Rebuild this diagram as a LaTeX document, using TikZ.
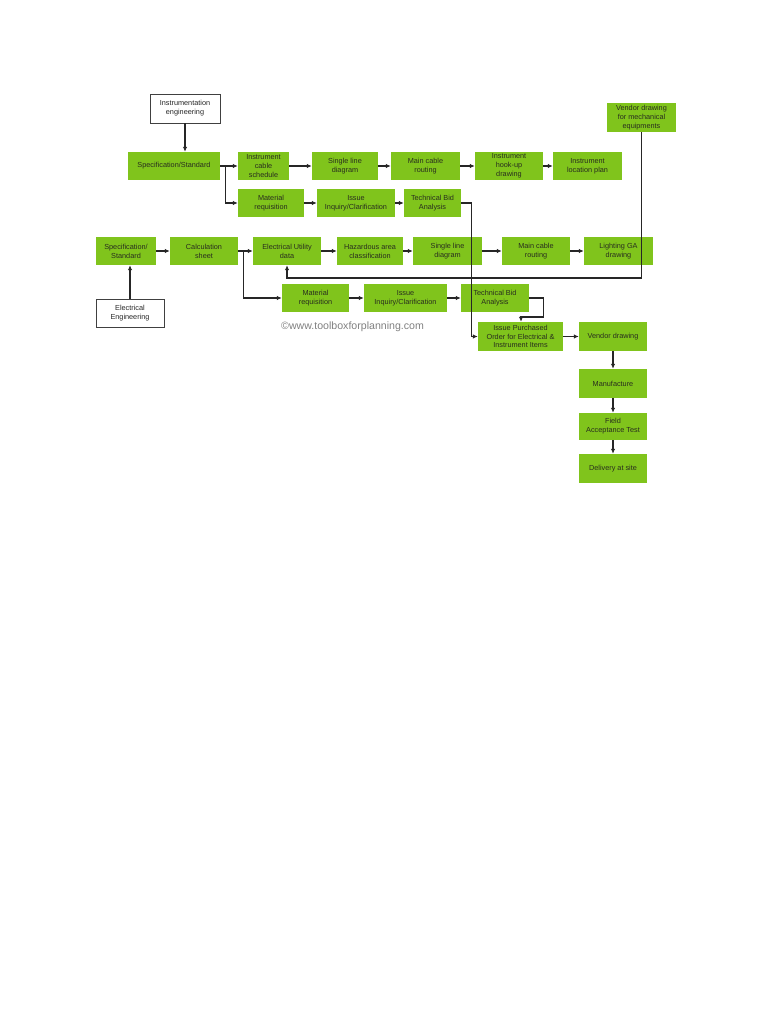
\documentclass[tikz,border=0pt]{standalone}
\usepackage{fontspec}
\setmainfont{Liberation Sans}
\usetikzlibrary{arrows.meta}
\definecolor{gfill}{RGB}{128,196,28}
\definecolor{gtext}{RGB}{40,45,30}
\newcommand\bx[7][box]{\node[#1, minimum width={#5-#3}, minimum height={#6-#4}] (#2) at ({(#3+#5)/2},{(#4+#6)/2}) {#7};}
\begin{document}
\begin{tikzpicture}[x=1pt,y=-1pt,
  box/.style={draw=none, fill=gfill, text=gtext, align=center, font=\fontsize{7.3}{8.8}\selectfont, inner sep=0pt},
  wbox/.style={draw=black!75, fill=white, line width=0.9pt, text=black!85, align=center, font=\fontsize{7.3}{8.8}\selectfont, inner sep=0pt},
  arr/.style={-{Latex[length=5pt,width=4.5pt]}, line width=1.2pt, draw=black!85},
  ]
\useasboundingbox (0,0) rectangle (768,1024);
% top section
\bx[wbox]{ie}{150}{94}{220}{123}{Instrumentation\\engineering}
\bx{s1}{128}{152}{220}{180}{Specification/Standard}
\bx{ics}{238}{152}{289}{180}{Instrument\\cable\\schedule}
\bx{sld1}{312}{152}{378}{180}{Single line\\diagram}
\bx{mcr1}{391}{152}{460}{180}{Main cable\\routing}
\bx{ihd}{475}{152}{543}{180}{Instrument\\hook-up\\drawing}
\bx{ilp}{553}{152}{622}{180}{Instrument\\location plan}
\bx{vdm}{607}{103}{676}{132}{Vendor drawing\\for mechanical\\equipments}
\bx{mr1}{238}{189}{304}{217}{Material\\requisition}
\bx{iic1}{317}{189}{395}{217}{Issue\\Inquiry/Clarification}
\bx{tba1}{404}{189}{461}{217}{Technical Bid\\Analysis}
% electrical section
\bx{s2}{96}{237}{156}{265}{Specification/\\Standard}
\bx{cs}{170}{237}{238}{265}{Calculation\\sheet}
\bx{eud}{253}{237}{321}{265}{Electrical Utility\\data}
\bx{hac}{337}{237}{403}{265}{Hazardous area\\classification}
\bx{sld2}{413}{237}{482}{265}{Single line\\diagram}
\bx{mcr2}{502}{237}{570}{265}{Main cable\\routing}
\bx{lga}{584}{237}{653}{265}{Lighting GA\\drawing}
\bx[wbox]{ee}{96}{299}{164}{327}{Electrical\\Engineering}
\bx{mr2}{282}{284}{349}{312}{Material\\requisition}
\bx{iic2}{364}{284}{447}{312}{Issue\\Inquiry/Clarification}
\bx{tba2}{461}{284}{529}{312}{Technical Bid\\Analysis}
% procurement
\bx{po}{478}{322}{563}{351}{Issue Purchased\\Order for Electrical \&\\Instrument Items}
\bx{vd}{579}{322}{647}{351}{Vendor drawing}
\bx{mf}{579}{369}{647}{398}{Manufacture}
\bx{fat}{579}{413}{647}{440}{Field\\Acceptance Test}
\bx{das}{579}{454}{647}{483}{Delivery at site}
\node[font=\fontsize{10.6}{12}\selectfont, text=black!50, anchor=west, inner sep=0pt] (cp) at (281,327) {©www.toolboxforplanning.com};
% connectors top
\draw[arr] (ie.south) -- (ie.south |- s1.north);
\draw[arr] (s1) -- (ics);
\draw[arr] ([xshift=5pt]s1.east) |- (mr1.west);
\draw[arr] (ics) -- (sld1);
\draw[arr] (sld1) -- (mcr1);
\draw[arr] (mcr1) -- (ihd);
\draw[arr] (ihd) -- (ilp);
\draw[arr] (mr1) -- (iic1);
\draw[arr] (iic1) -- (tba1);
\draw[arr] (tba1.east) -- ++(10,0) |- (po.west);
\coordinate (c1) at (287,278);
\draw[arr] (vdm.south) |- (c1) -- (c1 |- eud.south);
% connectors electrical
\draw[arr] (ee.north) -- (ee.north |- s2.south);
\draw[arr] (s2) -- (cs);
\draw[arr] (cs) -- (eud);
\draw[arr] ([xshift=5pt]cs.east) |- (mr2.west);
\draw[arr] (eud) -- (hac);
\draw[arr] (hac) -- (sld2);
\draw[arr] (sld2) -- (mcr2);
\draw[arr] (mcr2) -- (lga);
\draw[arr] (mr2) -- (iic2);
\draw[arr] (iic2) -- (tba2);
\coordinate (c2) at (521,317);
\draw[arr] (tba2.east) -- ++(14,0) |- (c2) -- (c2 |- po.north);
% procurement
\draw[arr] (po) -- (vd);
\draw[arr] (vd) -- (mf);
\draw[arr] (mf) -- (fat);
\draw[arr] (fat) -- (das);
\end{tikzpicture}
\end{document}
